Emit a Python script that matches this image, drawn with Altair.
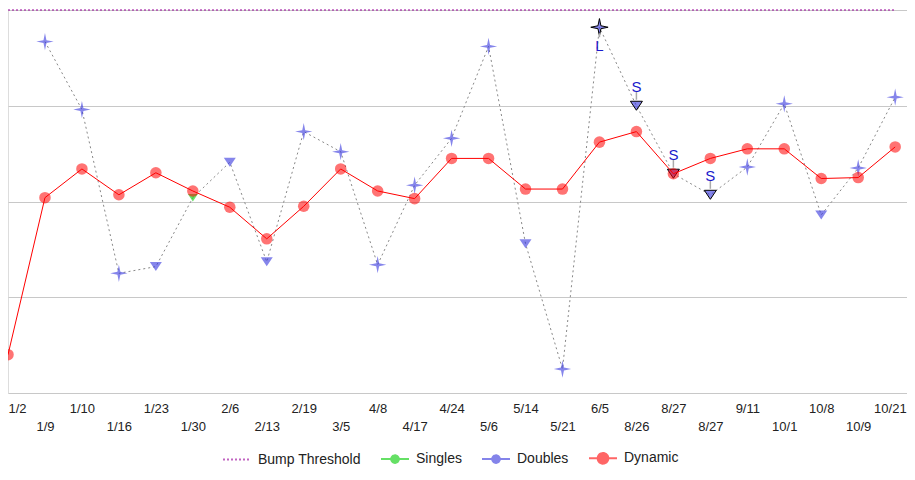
import pandas as pd
import altair as alt

dates = ["1/2", "1/9", "1/10", "1/16", "1/23", "1/30", "2/6", "2/13", "2/19", "3/5",
         "4/8", "4/17", "4/24", "5/6", "5/14", "5/21", "6/5", "8/26", "8/27", "8/27",
         "9/11", "10/1", "10/8", "10/9", "10/21"]
dynamic = [40, 204, 234, 207, 230, 211, 194, 161, 195, 234,
           211, 203, 245, 245, 213, 213, 262, 273, 229, 245,
           255, 255, 224, 225, 257]
match_rating = [None, 367, 296, 125, 132, 204, 241, 137, 273, 252,
                134, 217, 266, 362, 156, 25, 382, 300, 229, 207,
                236, 302, 186, 235, 309]
match_type = ["", "D", "D", "D", "D", "S", "D", "D", "D", "D",
              "D", "D", "D", "D", "D", "D", "D", "D", "D", "D",
              "D", "D", "D", "D", "D"]
marker = ["", "star", "star", "star", "tri", "tri", "tri", "tri", "star", "star",
          "star", "star", "star", "star", "tri", "star", "star", "tri", "tri", "tri",
          "star", "star", "tri", "star", "star"]
flags = ["", "", "", "", "", "", "", "", "", "",
         "", "", "", "", "", "", "L", "S", "S", "S",
         "", "", "", "", ""]
threshold = 400

series_names = ["Bump Threshold", "Singles", "Doubles", "Dynamic"]
series_colors = ["#990099", "#00cc00", "#3333dd", "#ff0000"]

STAR = "M0,-1L0.17,-0.17L1,0L0.17,0.17L0,1L-0.17,0.17L-1,0L-0.17,-0.17Z"
TRI = "M-1,-0.75L1,-0.75L0,0.75Z"
LINE_ONLY = "M-1,0L1,0"
LINE_DOT = "M-1,0L1,0M-0.27,0A0.27,0.27,0,1,0,0.27,0A0.27,0.27,0,1,0,-0.27,0Z"
LINE_BIG_DOT = "M-1,0L1,0M-0.38,0A0.38,0.38,0,1,0,0.38,0A0.38,0.38,0,1,0,-0.38,0Z"

FONT = "Liberation Sans"

df = pd.DataFrame({
    "idx": list(range(len(dates))),
    "date": dates,
    "dynamic": dynamic,
    "match": match_rating,
    "kind": match_type,
    "marker": marker,
    "flag": flags,
})
thr_df = pd.DataFrame({"idx": [0, len(dates) - 1], "v": [threshold, threshold]})
legend_df = pd.DataFrame({"series": series_names})

last = len(dates) - 1
label_arr = "[" + ",".join("'" + d + "'" for d in dates) + "]"
label_expr = (
    f"datum.value % 2 == 1 ? ['', {label_arr}[datum.value]] : {label_arr}[datum.value]"
)

x_enc = alt.X(
    "idx:Q",
    scale=alt.Scale(domain=[0, 24.32], nice=False, zero=False),
    axis=alt.Axis(
        values=list(range(len(dates))), labelExpr=label_expr, title=None,
        grid=False, ticks=False, domain=False, labelOverlap=False,
        labelFontSize=13, labelColor="#222", labelPadding=9,
        labelLineHeight=18, labelFont=FONT,
        labelAlign={"condition": [{"test": "datum.value == 0", "value": "left"},
                                  {"test": f"datum.value == {last}", "value": "right"}],
                    "value": "center"},
        labelOffset={"condition": {"test": f"datum.value == {last}", "value": 11},
                     "value": 0},
    ),
)
y_scale = alt.Scale(domain=[0, 400], nice=False, zero=False)
y_axis = alt.Axis(
    values=[0, 100, 200, 300, 400], labels=False, ticks=False, domain=False,
    title=None, grid=True, gridColor="#c8c8c8", gridWidth=1,
)

base = alt.Chart(df)
matches = base.transform_filter("isValid(datum.match)")

thr = alt.Chart(thr_df).mark_line(
    color="#990099", strokeDash=[2, 2], strokeWidth=1.2
).encode(x=x_enc, y=alt.Y("v:Q", scale=y_scale, axis=y_axis))

dotted = matches.mark_line(
    color="#888888", strokeDash=[2, 3], strokeWidth=1
).encode(x=x_enc, y=alt.Y("match:Q", scale=y_scale, axis=y_axis))

stars = matches.transform_filter("datum.marker == 'star'").mark_point(
    shape=STAR, filled=True, color="#3333dd", opacity=0.6, size=300
).encode(x=x_enc, y=alt.Y("match:Q", scale=y_scale, axis=y_axis))

tris = matches.transform_filter(
    "datum.marker == 'tri' && datum.kind == 'D'"
).mark_point(
    shape=TRI, filled=True, color="#3333dd", opacity=0.6, size=144
).encode(x=x_enc, y=alt.Y("match:Q", scale=y_scale, axis=y_axis))

singles = matches.transform_filter("datum.kind == 'S'").mark_point(
    shape=TRI, filled=True, color="#00cc00", opacity=0.6, size=100
).encode(x=x_enc, y=alt.Y("match:Q", scale=y_scale, axis=y_axis))

star_out = matches.transform_filter(
    "datum.marker == 'star' && datum.flag != ''"
).mark_point(
    shape=STAR, filled=False, color="#000000", opacity=1, size=300, strokeWidth=1
).encode(x=x_enc, y=alt.Y("match:Q", scale=y_scale, axis=y_axis))

tri_out = matches.transform_filter(
    "datum.marker == 'tri' && datum.flag != ''"
).mark_point(
    shape=TRI, filled=False, color="#000000", opacity=1, size=144, strokeWidth=1
).encode(x=x_enc, y=alt.Y("match:Q", scale=y_scale, axis=y_axis))

dyn_line = base.mark_line(color="#ff0000", strokeWidth=1).encode(
    x=x_enc, y=alt.Y("dynamic:Q", scale=y_scale, axis=y_axis)
)
dyn_pts = base.mark_circle(color="#ff0000", opacity=0.55, size=133).encode(
    x=x_enc, y=alt.Y("dynamic:Q", scale=y_scale, axis=y_axis)
)

s_rule = matches.transform_filter("datum.flag == 'S'").mark_rule(
    color="#aaaaaa", strokeWidth=1.5, yOffset=-14, y2Offset=-6
).encode(x=x_enc, y=alt.Y("match:Q", scale=y_scale, axis=y_axis), y2="match:Q")
s_text = matches.transform_filter("datum.flag == 'S'").mark_text(
    dy=-19, color="#1a1acc", fontSize=15, font=FONT
).encode(x=x_enc, y=alt.Y("match:Q", scale=y_scale, axis=y_axis), text="flag:N")

l_rule = matches.transform_filter("datum.flag == 'L'").mark_rule(
    color="#aaaaaa", strokeWidth=1.5, yOffset=6, y2Offset=10
).encode(x=x_enc, y=alt.Y("match:Q", scale=y_scale, axis=y_axis), y2="match:Q")
l_text = matches.transform_filter("datum.flag == 'L'").mark_text(
    dy=19, color="#1a1acc", fontSize=15, font=FONT
).encode(x=x_enc, y=alt.Y("match:Q", scale=y_scale, axis=y_axis), text="flag:N")

leg = alt.Legend(
    title=None, orient="none", legendX=214, legendY=433, direction="horizontal",
    symbolSize=784, symbolStrokeWidth=2, labelFontSize=14, labelColor="#222",
    labelFont=FONT, columnPadding=16, labelOffset=6, padding=0,
)
legend_layer = alt.Chart(legend_df).transform_filter(
    "datum.series == 'none'"
).mark_point(filled=True, opacity=0.6, strokeWidth=2).encode(
    color=alt.Color("series:N", scale=alt.Scale(domain=series_names, range=series_colors), legend=leg),
    stroke=alt.Stroke("series:N", scale=alt.Scale(domain=series_names, range=series_colors), legend=leg),
    shape=alt.Shape("series:N", scale=alt.Scale(domain=series_names, range=[LINE_ONLY, LINE_DOT, LINE_DOT, LINE_BIG_DOT]), legend=leg),
    strokeDash=alt.StrokeDash("series:N", scale=alt.Scale(domain=series_names, range=[[2, 2], [1, 0], [1, 0], [1, 0]]), legend=leg),
)

chart = alt.layer(
    thr, dotted, stars, tris, singles, star_out, tri_out,
    dyn_line, dyn_pts, s_rule, s_text, l_rule, l_text, legend_layer,
).properties(
    width=899, height=383,
    autosize=alt.AutoSizeParams(type="none"),
    padding={"left": 0, "top": 2, "right": 0, "bottom": 80},
).configure_view(stroke=None).configure(font=FONT)

chart.save("out.html", embed_options={"renderer": "svg", "actions": False})
